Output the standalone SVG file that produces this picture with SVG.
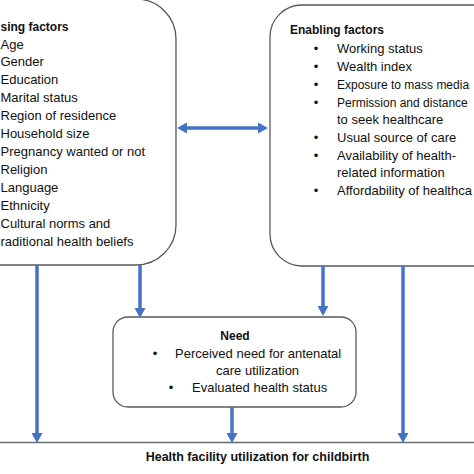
<svg xmlns="http://www.w3.org/2000/svg" width="474" height="474" viewBox="0 0 474 474">
<defs>
<marker id="ah" markerUnits="userSpaceOnUse" markerWidth="10" markerHeight="11" refX="2" refY="5.5" orient="auto-start-reverse">
<path d="M0,0 L10,5.5 L0,11 z" fill="#4472C4"/>
</marker>
<style>
.box{fill:#fff;stroke:#595959;stroke-width:1.3}
.t{font-family:"Liberation Sans",Arial,sans-serif;font-size:13px;fill:#111}
.s{font-size:12px}
.h{font-family:"Liberation Sans",Arial,sans-serif;font-size:12px;font-weight:bold;fill:#111}
.b{font-family:"Liberation Sans",Arial,sans-serif;font-size:13px;fill:#111;text-anchor:middle}
.arr{stroke:#4472C4;stroke-width:3.5;fill:none;marker-end:url(#ah)}
</style>
</defs>
<rect width="474" height="474" fill="#fff"/>
<g id="predisposing">
<rect class="box" x="-50" y="-1" width="226" height="266" rx="40" ry="40"/>
<text class="h" x="0.5" y="30.5">sing factors</text>
<text class="t" x="0.5" y="48.5">Age</text>
<text class="t" x="0.5" y="66.3">Gender</text>
<text class="t" x="0.5" y="84.2">Education</text>
<text class="t" x="0.5" y="102.1">Marital status</text>
<text class="t" x="0.5" y="120">Region of residence</text>
<text class="t" x="0.5" y="138">Household size</text>
<text class="t" x="0.5" y="156">Pregnancy wanted or not</text>
<text class="t" x="0.5" y="173.8">Religion</text>
<text class="t" x="0.5" y="191.8">Language</text>
<text class="t" x="0.5" y="209.7">Ethnicity</text>
<text class="t" x="0.5" y="227.5">Cultural norms and</text>
<text class="t" x="0.5" y="245.5">raditional health beliefs</text>
</g>
<g id="enabling">
<rect class="box" x="270" y="5" width="260" height="261" rx="32" ry="32"/>
<text class="h" x="290" y="33.5">Enabling factors</text>
<text class="b" x="316" y="52.5">•</text><text class="t" x="337" y="52.5">Working status</text>
<text class="b" x="316" y="70.5">•</text><text class="t" x="337" y="70.5">Wealth index</text>
<text class="b" x="316" y="88.7">•</text><text class="t s" x="337" y="88.7">Exposure to mass media</text>
<text class="b" x="316" y="106.8">•</text><text class="t s" x="337" y="106.8">Permission and distance</text>
<text class="t" x="337" y="124">to seek healthcare</text>
<text class="b" x="316" y="141.8">•</text><text class="t" x="337" y="141.8">Usual source of care</text>
<text class="b" x="316" y="159.5">•</text><text class="t" x="337" y="159.5">Availability of health-</text>
<text class="t" x="337" y="177">related information</text>
<text class="b" x="316" y="195">•</text><text class="t" x="337" y="195">Affordability of healthca</text>
</g>
<g id="need">
<rect class="box" x="113" y="317" width="243" height="90" rx="15" ry="15"/>
<text class="h" x="235" y="339.5" text-anchor="middle">Need</text>
<text class="b" x="155" y="358">•</text><text class="t" x="175" y="358">Perceived need for antenatal</text>
<text class="t" x="216" y="375">care utilization</text>
<text class="b" x="171" y="392">•</text><text class="t" x="192" y="392">Evaluated health status</text>
</g>
<g id="outcome">
<line x1="0" y1="442.5" x2="474" y2="442.5" stroke="#6b6b6b" stroke-width="1.5"/>
<text class="h" x="257.5" y="461" text-anchor="middle" style="font-size:12.5px">Health facility utilization for childbirth</text>
</g>
<g id="connectors">
<path class="arr" d="M185,128 L260,128" style="marker-start:url(#ah)"/>
<path class="arr" d="M140,265 L140,310"/>
<path class="arr" d="M323,266 L323,308"/>
<path class="arr" d="M37,265 L37,435"/>
<path class="arr" d="M403,266 L403,435"/>
<path class="arr" d="M232,407 L232,435"/>
</g>
</svg>
